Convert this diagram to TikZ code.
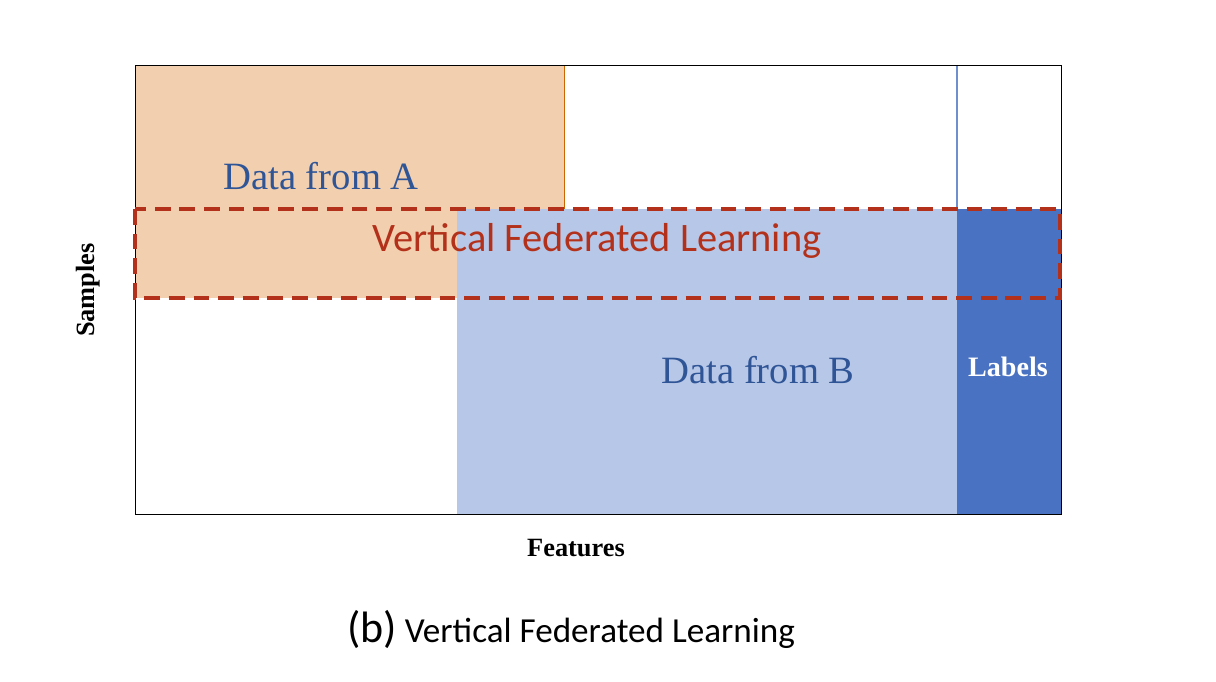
\documentclass[tikz,border=0pt]{standalone}
\usepackage{fontspec}
\setmainfont{Liberation Serif}
\newfontfamily\carfont{Carlito}
\definecolor{orA}{HTML}{F2CFAE}
\definecolor{blB}{HTML}{B7C7E7}
\definecolor{blL}{HTML}{4A72C2}
\definecolor{txB}{HTML}{2F5597}
\definecolor{vred}{HTML}{B3311A}
\begin{document}
\begin{tikzpicture}[x=0.02cm,y=-0.02cm,
  lab/.style={font=\fontsize{22}{24}\selectfont, text=txB},
  ax/.style={font=\bfseries\fontsize{15}{17}\selectfont}]
\useasboundingbox (0,0) rectangle (1216,682);
\fill[orA] (135,65) rectangle (564,298);
\draw[orange!80!black,line width=0.4pt] (135,65) -- (564,65) -- (564,298);
\fill[blB] (457,209) rectangle (957,514);
\fill[blL] (957,209) rectangle (1061,514);
\draw[blL!80,line width=0.6pt] (957,65) -- (957,209);
\draw[line width=0.4pt] (135,65) rectangle (1061,514);
\draw[vred,line width=2pt,dash pattern=on 9pt off 5pt] (135,209) rectangle (1060,298);
\node[lab] (a) at (321,176) {Data from A};
\node[lab] (b) at (758,370) {Data from B};
\node[font=\carfont\fontsize{23}{25}\selectfont,text=vred] (v) at (597,241) {Vertical Federated Learning};
\node[font=\bfseries\fontsize{16}{18}\selectfont,text=white] (l) at (1008,367) {Labels};
\node[ax,rotate=90] (s) at (88,290) {Samples};
\node[ax] (f) at (576,548) {Features};
\node[font=\carfont\fontsize{20}{22}\selectfont] (c) at (571,629) {{\fontsize{25}{27}\selectfont(b)} Vertical Federated Learning};
\end{tikzpicture}
\end{document}
